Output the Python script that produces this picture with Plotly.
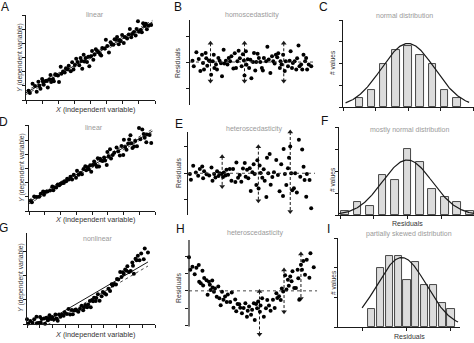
import numpy as np
import plotly.graph_objects as go

W, H = 474, 343

# ---------------- data ----------------
# linear relationship, constant spread
lin_x = [2.0, 3.0, 5.1, 7.0, 8.3, 9.6, 10.4, 11.2, 12.5, 13.0,
         13.8, 15.1, 16.1, 16.9, 18.2, 19.0, 19.5, 20.8, 21.6, 22.7,
         23.7, 24.8, 25.6, 26.9, 27.4, 28.7, 30.0, 31.0, 32.1, 33.1,
         34.7, 35.8, 36.8, 37.9, 38.9, 39.9, 41.3, 42.3, 43.1, 43.6,
         44.7, 45.2, 46.2, 47.3, 48.3, 49.1, 50.4, 51.2, 52.2, 53.0,
         54.1, 55.1, 56.2, 57.5, 58.3, 59.1, 60.9, 61.9, 63.0, 64.3,
         65.6, 66.6, 67.7, 68.7, 69.8, 70.6, 71.9, 72.4, 73.2, 74.5,
         75.8, 76.6, 78.4, 79.7, 80.5, 81.6, 82.3, 83.7, 85.0, 85.7,
         86.8, 87.6, 88.9, 89.8, 90.8, 92.1, 92.9, 93.7, 95.0, 97.0]
lin_y = [0.66, 0.50, 1.15, 0.98, 0.59, 1.28, 1.00, 0.79, 1.49, 1.32,
         1.07, 1.34, 1.36, 0.88, 1.47, 1.76, 1.27, 1.47, 1.32, 1.82,
         1.77, 1.73, 1.27, 2.35, 1.85, 2.02, 1.94, 2.24, 2.17, 2.42,
         2.03, 2.67, 2.15, 2.47, 2.92, 2.69, 2.45, 2.96, 2.76, 2.21,
         3.20, 2.71, 2.97, 2.69, 3.06, 2.39, 3.08, 3.46, 2.84, 3.21,
         3.58, 3.47, 3.37, 3.21, 3.15, 3.67, 3.64, 4.25, 3.81, 3.36,
         4.07, 3.93, 3.90, 4.29, 4.25, 4.44, 3.94, 4.23, 4.14, 4.58,
         4.02, 4.44, 4.34, 4.62, 5.02, 4.43, 4.66, 4.80, 4.55, 5.02,
         5.56, 4.81, 4.94, 4.79, 5.41, 5.23, 5.39, 4.99, 5.25, 5.29]

# linear relationship, spread growing with x
het_x = [1.5, 2.3, 4.1, 6.2, 8.0, 9.3, 11.2, 11.9, 12.7, 14.6,
         16.7, 18.5, 19.3, 20.6, 21.6, 22.9, 24.0, 25.0, 26.3, 27.6,
         28.2, 29.5, 30.3, 31.6, 32.9, 34.2, 35.5, 37.3, 38.1, 39.4,
         40.7, 42.0, 43.3, 44.7, 45.4, 46.5, 47.5, 48.6, 49.4, 50.7,
         51.7, 52.5, 53.8, 54.6, 55.6, 56.4, 57.2, 58.5, 59.6, 60.4,
         61.7, 62.2, 63.2, 64.3, 65.1, 66.4, 67.7, 69.5, 70.8, 72.1,
         73.4, 74.8, 75.3, 76.3, 77.4, 78.7, 79.5, 80.5, 81.3, 82.1,
         83.4, 84.4, 85.7, 87.3, 88.4, 89.9, 91.0, 91.8, 93.1, 93.6,
         95.7, 97.0]
het_y = [0.71, 0.62, 1.03, 0.98, 1.00, 1.22, 1.37, 1.14, 1.34, 1.37,
         1.45, 1.72, 1.46, 1.68, 1.65, 1.86, 1.81, 1.92, 1.97, 1.97,
         2.10, 2.10, 2.27, 2.22, 2.42, 2.22, 2.55, 2.35, 2.83, 2.55,
         2.68, 2.59, 2.96, 3.15, 2.88, 3.09, 2.95, 3.23, 2.76, 3.25,
         3.48, 3.30, 3.12, 3.72, 3.13, 3.69, 3.56, 3.52, 3.77, 3.55,
         3.25, 4.16, 3.86, 4.35, 3.70, 3.94, 4.11, 4.48, 4.21, 3.91,
         4.58, 3.94, 5.02, 4.51, 4.32, 4.76, 5.04, 5.34, 4.78, 4.44,
         4.55, 4.94, 4.57, 5.84, 5.06, 5.75, 5.42, 5.16, 4.85, 5.39,
         5.36, 4.79]

# curved relationship
nl_x = [0.0, 1.0, 2.6, 4.3, 5.6, 7.4, 7.7, 8.9, 10.2, 10.7,
        11.5, 13.3, 14.1, 15.1, 15.8, 16.4, 17.6, 17.9, 18.9, 19.7,
        21.0, 22.2, 23.0, 24.0, 25.0, 26.1, 27.3, 28.6, 29.4, 31.2,
        32.4, 33.7, 35.0, 35.8, 36.8, 38.1, 38.8, 40.1, 41.4, 42.7,
        43.9, 44.5, 45.5, 47.0, 47.8, 49.1, 49.8, 50.8, 51.6, 52.4,
        53.7, 54.2, 55.4, 56.7, 58.3, 59.3, 60.6, 61.8, 63.6, 64.9,
        66.2, 66.9, 68.2, 69.5, 70.3, 71.3, 72.8, 73.8, 74.9, 75.6,
        76.7, 77.7, 78.4, 79.7, 81.0, 82.3, 82.8, 83.5, 84.8, 85.6,
        86.6, 87.9, 89.2, 91.2, 92.0, 94.5]
nl_y = [0.20, 0.02, 0.12, 0.05, 0.20, 0.30, 0.03, 0.04, 0.29, 0.06,
        0.21, 0.23, 0.01, 0.26, 0.23, 0.16, 0.36, 0.25, 0.21, 0.29,
        0.19, 0.40, 0.23, 0.14, 0.40, 0.30, 0.39, 0.34, 0.49, 0.42,
        0.62, 0.40, 0.58, 0.41, 0.56, 0.60, 0.56, 0.51, 0.64, 0.76,
        0.57, 0.69, 0.79, 0.70, 0.81, 0.96, 0.70, 1.00, 0.95, 1.09,
        0.96, 1.08, 1.24, 0.97, 1.16, 1.33, 1.28, 1.23, 1.47, 1.37,
        1.66, 1.60, 1.67, 1.65, 1.87, 1.85, 2.17, 1.96, 2.16, 2.08,
        2.27, 2.22, 2.41, 2.17, 2.21, 2.56, 2.43, 2.09, 2.72, 2.66,
        2.84, 2.65, 2.94, 2.70, 3.14, 2.98]

# regression lines drawn in the scatter panels: (slope, intercept)
fit_lin = (0.0509, 0.51)
fit_het = (0.0508, 0.65)
fit_nl = (0.0312, -0.365)

# spread markers on the residual plots: x position, upper and lower end
lin_arrow_x = [16.4, 43.6, 75.0]
lin_arrow_top = [0.72, 0.72, 0.72]
lin_arrow_bot = [-0.73, -0.73, -0.73]
het_arrow_x = [26.9, 55.4, 80.5]
het_arrow_top = [0.37, 0.60, 0.93]
het_arrow_bot = [-0.30, -0.62, -0.86]
nl_arrow_x = [53.4, 72.0, 84.8]
nl_arrow_top = [-0.01, 0.35, 0.62]
nl_arrow_bot = [-0.73, -0.35, -0.13]

# residual histograms
hist_c_bins = [-1.5, -1.125, -0.75, -0.375, 0.0, 0.375, 0.75, 1.125, 1.5]
hist_c_counts = [2, 4, 10, 13, 14, 12, 10, 4, 2]
hist_f_bins = [-1.855, -1.484, -1.113, -0.742, -0.371, 0.0, 0.371, 0.742, 1.113, 1.484, 1.855]
hist_f_counts = [1, 3, 2, 9, 8, 15, 12, 6, 4, 3, 1]
hist_i_bins = [-0.8, -0.6, -0.4, -0.2, 0.0, 0.2, 0.4, 0.6, 0.8, 1.0]
hist_i_counts = [3, 10, 12, 12, 8, 11, 7, 7, 4, 3]

# normal curves overlaid on the histograms: (mean, sd, peak, x from, x to)
curve_c = (0.0, 0.82, 14.6, -1.92, 1.88)
curve_f = (0.0, 0.74, 12.5, -2.03, 1.98)
curve_i = (-0.12, 0.56, 11.7, -1.02, 1.16)

# ---------------- helpers ----------------
FONT = "Liberation Sans, Arial, sans-serif"
INK = "#1a1a1a"


def xdom(p0, p1):
    return [p0 / W, p1 / W]


def ydom(top, bottom):
    return [1 - bottom / H, 1 - top / H]


def px_x(p):
    return p / W


def px_y(p):
    return 1 - p / H


base_axis = dict(showline=True, linecolor=INK, linewidth=1.2, ticks="outside",
                 ticklen=3, tickwidth=1, tickcolor=INK, showticklabels=False,
                 showgrid=False, zeroline=False, fixedrange=True)

fig = go.Figure()
layout = {}
shapes = []


def add_axes(i, xd, yd, xr, yr, xkw=None, ykw=None):
    sx = "" if i == 1 else str(i)
    xa = dict(base_axis, domain=xd, range=xr, anchor="y" + sx)
    ya = dict(base_axis, domain=yd, range=yr, anchor="x" + sx)
    if xkw:
        xa.update(xkw)
    if ykw:
        ya.update(ykw)
    layout["xaxis" + sx] = xa
    layout["yaxis" + sx] = ya
    return "x" + sx, "y" + sx


def scatter_panel(i, xs, ys, fit, xd, yd, yr, band, band_both=True, xend=98.0, xdt=12.5):
    xa, ya = add_axes(i, xd, yd, [0, 100], yr,
                      xkw=dict(tick0=0, dtick=xdt), ykw=dict(tick0=0, dtick=1))
    xs = np.asarray(xs)
    ys = np.asarray(ys)
    slope, icpt = fit
    lx = np.array([0.0, xend])
    ly = icpt + slope * lx
    fig.add_trace(go.Scatter(x=lx, y=ly, mode="lines", xaxis=xa, yaxis=ya,
                             line=dict(color=INK, width=1), hoverinfo="skip"))
    offsets = [band, -band] if band_both else [-band]
    for off in offsets:
        fig.add_trace(go.Scatter(x=lx, y=ly + off, mode="lines", xaxis=xa, yaxis=ya,
                                 line=dict(color=INK, width=0.8, dash="dot"),
                                 hoverinfo="skip"))
    fig.add_trace(go.Scatter(x=xs, y=ys, mode="markers", xaxis=xa, yaxis=ya,
                             cliponaxis=False,
                             marker=dict(color="black", size=4, line=dict(width=0))))
    return ys - (icpt + slope * xs)


def residual_panel(i, xs, res, xd, yd, yr, ticks, zero_end, ax_x, ax_top, ax_bot,
                   own_line=None):
    ykw = dict(tickvals=ticks)
    if own_line is not None:
        ykw["showline"] = False
    xa, ya = add_axes(i, xd, yd, [0, 100], yr,
                      xkw=dict(visible=False), ykw=ykw)
    if own_line is not None:
        shapes.append(dict(type="line", xref=xa + " domain", yref=ya,
                           x0=0, x1=0, y0=own_line[0], y1=own_line[1],
                           line=dict(color=INK, width=1.2)))
    shapes.append(dict(type="line", xref=xa, yref=ya, x0=0, x1=zero_end, y0=0, y1=0,
                       line=dict(color="#333333", width=0.9, dash="dot")))
    for ax, t, b in zip(ax_x, ax_top, ax_bot):
        fig.add_trace(go.Scatter(x=[ax, ax], y=[t, b], mode="lines", xaxis=xa, yaxis=ya,
                                 line=dict(color=INK, width=1, dash="3px,2px"),
                                 hoverinfo="skip"))
    fig.add_trace(go.Scatter(x=ax_x, y=ax_top, mode="markers", xaxis=xa, yaxis=ya,
                             cliponaxis=False,
                             marker=dict(symbol="triangle-up", size=5, color=INK)))
    fig.add_trace(go.Scatter(x=ax_x, y=ax_bot, mode="markers", xaxis=xa, yaxis=ya,
                             cliponaxis=False,
                             marker=dict(symbol="triangle-down", size=5, color=INK)))
    fig.add_trace(go.Scatter(x=xs, y=res, mode="markers", xaxis=xa, yaxis=ya,
                             cliponaxis=False,
                             marker=dict(color="black", size=4, line=dict(width=0))))


def hist_panel(i, bins, counts, barw, curve, xd, yd, xr, yr):
    xa, ya = add_axes(i, xd, yd, xr, yr,
                      xkw=dict(tick0=0, dtick=1), ykw=dict(tick0=0, dtick=5))
    fig.add_trace(go.Bar(x=bins, y=counts, width=barw, xaxis=xa, yaxis=ya,
                         marker=dict(color="#dcdcdc", line=dict(color="#333333", width=0.9))))
    mu, sd, peak, c0, c1 = curve
    cx = np.linspace(c0, c1, 200)
    cy = peak * np.exp(-0.5 * ((cx - mu) / sd) ** 2)
    fig.add_trace(go.Scatter(x=cx, y=cy, mode="lines", xaxis=xa, yaxis=ya,
                             cliponaxis=False,
                             line=dict(color=INK, width=1.2), hoverinfo="skip"))


# ---------------- panels ----------------
res_lin = scatter_panel(1, lin_x, lin_y, fit_lin, xdom(26, 155), ydom(15, 100), [0, 6], 0.12)
residual_panel(2, lin_x, res_lin, xdom(190, 315), ydom(20, 105), [-1.65, 1.615],
               [-1, 0, 1], 100, lin_arrow_x, lin_arrow_top, lin_arrow_bot)
hist_panel(3, hist_c_bins, hist_c_counts, 0.23, curve_c,
           xdom(343, 474), ydom(20, 107), [-2.0, 2.03], [0, 20])

res_het = scatter_panel(4, het_x, het_y, fit_het, xdom(29, 155), ydom(125, 211), [0, 6.06], 0.14)
residual_panel(5, het_x, res_het, xdom(188, 315), ydom(132, 215), [-0.94, 0.93],
               [-0.6, 0, 0.6], 100, het_arrow_x, het_arrow_top, het_arrow_bot)
hist_panel(6, hist_f_bins, hist_f_counts, 0.228, curve_f,
           xdom(339, 474), ydom(127, 215), [-2.03, 1.98], [0, 20])

res_nl = scatter_panel(7, nl_x, nl_y, fit_nl, xdom(27, 155), ydom(233, 324), [0, 3.79], 0.17,
                       band_both=False, xend=94.5, xdt=10)
residual_panel(8, nl_x, res_nl, xdom(189, 321), ydom(240, 336), [-0.76, 0.856],
               [-0.58, -0.29, 0, 0.29, 0.58], 97, nl_arrow_x, nl_arrow_top, nl_arrow_bot,
               own_line=(-0.60, 0.856))
hist_panel(9, hist_i_bins, hist_i_counts, 0.167, curve_i,
           xdom(338, 460), ydom(238, 327), [-1.568, 1.205], [0, 15])

# ---------------- text ----------------
ann = []


def txt(s, x, y, size=7, color="#333333", angle=0):
    ann.append(dict(text=s, x=px_x(x), y=px_y(y), xref="paper", yref="paper",
                    showarrow=False, xanchor="center", yanchor="middle",
                    textangle=angle, font=dict(family=FONT, size=size, color=color)))


for letter, lx, ly in [("A", 5, 7), ("B", 178, 7), ("C", 323, 7),
                       ("D", 4, 122), ("E", 179, 124), ("F", 324, 121),
                       ("G", 4, 228), ("H", 180, 229), ("I", 328, 229)]:
    txt(letter, lx, ly, size=12, color="#111111")

GRAY = "#9a9a9a"
for t, tx, ty in [("linear", 95, 14), ("homoscedasticity", 252, 15),
                  ("normal distribution", 404, 15), ("linear", 94, 128),
                  ("heteroscedasticity", 254, 129), ("mostly normal distribution", 409, 130),
                  ("nonlinear", 97, 238), ("heteroscedasticity", 255, 233),
                  ("partially skewed distribution", 409, 234)]:
    txt(t, tx, ty, size=7, color=GRAY)

for ty in (110, 219, 334):
    txt("<i>X</i> (independent variable)", 95, ty, size=7.3)
for tx, ty in ((20, 58), (22, 168), (21, 278)):
    txt("<i>Y</i> (dependent variable)", tx, ty, size=6.8, angle=-90)
for ty in (63, 173, 288):
    txt("Residuals", 178, ty, size=6.8, angle=-90)
for ty in (63, 180, 283):
    txt("# values", 333, ty, size=6.5, angle=-90)
txt("Residuals", 407, 224, size=7)
txt("Residuals", 409, 336, size=7)

fig.update_layout(width=W, height=H, margin=dict(l=0, r=0, t=0, b=0),
                  paper_bgcolor="white", plot_bgcolor="white", showlegend=False,
                  bargap=0, font=dict(family=FONT), annotations=ann, shapes=shapes,
                  **layout)

fig.write_html("out.html")
